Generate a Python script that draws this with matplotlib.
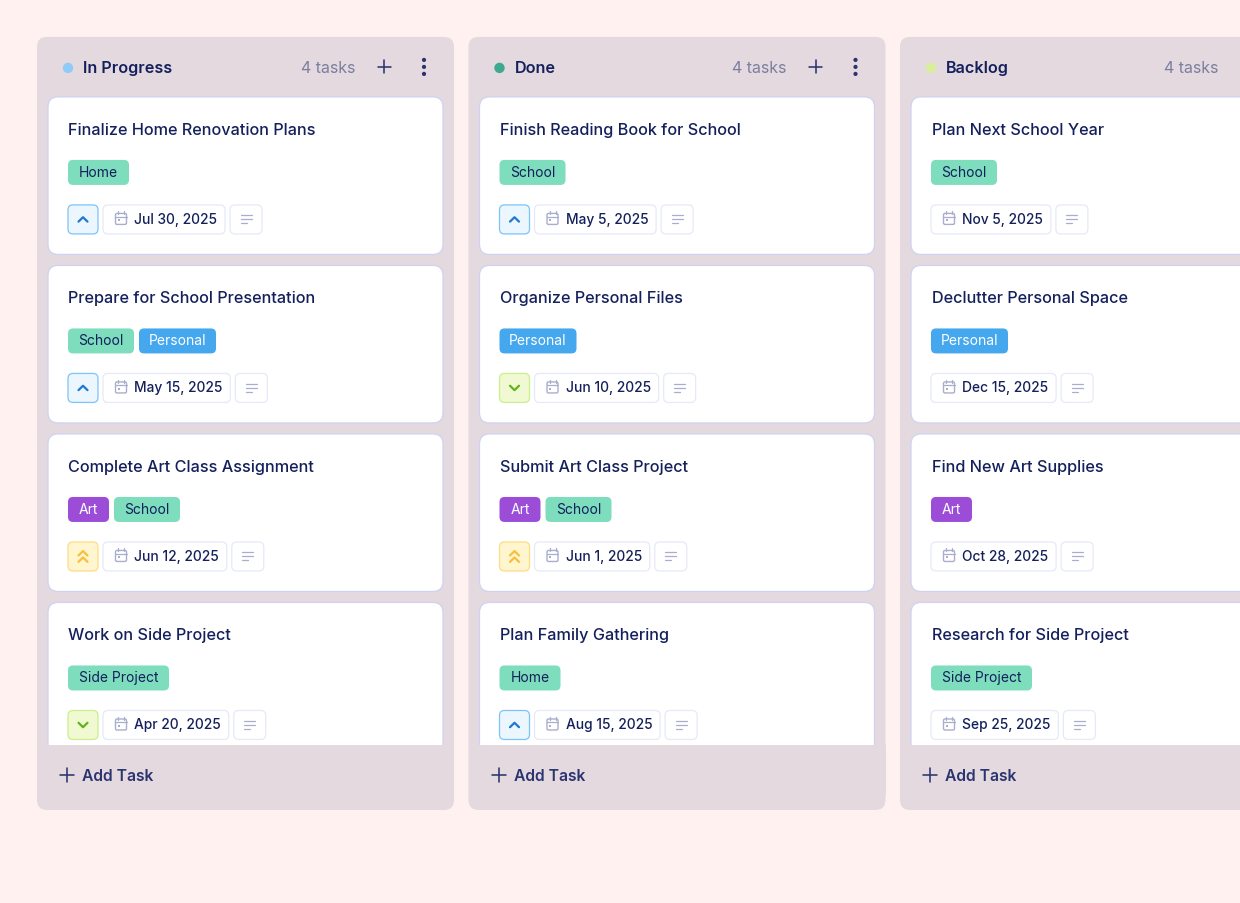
import matplotlib
matplotlib.use('Agg')
import matplotlib.pyplot as plt
from matplotlib.patches import FancyBboxPatch, Circle, Rectangle

plt.rcParams['font.family'] = ['Inter', 'DejaVu Sans']

## Board content
columns = ['In Progress', 'Done', 'Backlog']
task_counts = ['4 tasks', '4 tasks', '4 tasks']

titles = [
    ['Finalize Home Renovation Plans', 'Prepare for School Presentation',
     'Complete Art Class Assignment', 'Work on Side Project'],
    ['Finish Reading Book for School', 'Organize Personal Files',
     'Submit Art Class Project', 'Plan Family Gathering'],
    ['Plan Next School Year', 'Declutter Personal Space',
     'Find New Art Supplies', 'Research for Side Project'],
]
tags = [
    [['Home'], ['School', 'Personal'], ['Art', 'School'], ['Side Project']],
    [['School'], ['Personal'], ['Art', 'School'], ['Home']],
    [['School'], ['Personal'], ['Art'], ['Side Project']],
]
dates = [
    ['Jul 30, 2025', 'May 15, 2025', 'Jun 12, 2025', 'Apr 20, 2025'],
    ['May 5, 2025', 'Jun 10, 2025', 'Jun 1, 2025', 'Aug 15, 2025'],
    ['Nov 5, 2025', 'Dec 15, 2025', 'Oct 28, 2025', 'Sep 25, 2025'],
]
priorities = [
    ['medium', 'medium', 'high', 'low'],
    ['medium', 'low', 'high', 'medium'],
    [None, None, None, None],
]

## Colours
BG = '#FFF1F0'
PANEL = '#E5D9E0'
INK = '#14205C'
SOFT_INK = '#2A3570'
BORDER = '#CDD3F0'
PILL_BORDER = '#E6E9F8'
ICON = '#A9AECF'
dot_colors = ['#8FCBF7', '#3FA990', '#D8EE9C']
tag_colors = {'Home': '#7DDDBD', 'School': '#7DDDBD', 'Side Project': '#7DDDBD',
              'Personal': '#45A8EE', 'Art': '#9B4DD8'}
tag_text = {'Home': INK, 'School': INK, 'Side Project': INK,
            'Personal': '#FFFFFF', 'Art': '#FFFFFF'}
tag_widths = {'Home': 61, 'School': 66, 'Side Project': 101, 'Personal': 77, 'Art': 41}
prio_style = {'medium': ('#EBF6FF', '#7CC4F8', '#1F78D1'),
              'high': ('#FFF6CF', '#FBDD85', '#F8BF3C'),
              'low': ('#F1F9D2', '#CBEF8C', '#62B31C')}

fig = plt.figure(figsize=(12.4, 9.031), dpi=100, facecolor=BG)
ax = fig.add_axes([0, 0, 1, 1])
ax.set_xlim(0, 1240)
ax.set_ylim(903, 0)
ax.axis('off')


def box(x0, y0, x1, y1, r, fc, ec='none', lw=0, z=1):
    p = FancyBboxPatch((x0 + r, y0 + r), x1 - x0 - 2 * r, y1 - y0 - 2 * r,
                       boxstyle='round,pad=%f,rounding_size=%f' % (r, r),
                       fc=fc, ec=ec, lw=lw, zorder=z)
    ax.add_patch(p)


def line(xs, ys, color, lw=1.2, z=4):
    ax.plot(xs, ys, color=color, lw=lw, zorder=z, solid_capstyle='round',
            solid_joinstyle='round')


def chevron(cx, cy, color, up=True):
    d = -2.2 if up else 2.2
    line([cx - 4.5, cx, cx + 4.5], [cy - d, cy + d, cy - d], color, lw=1.6)


def calendar(cx, cy):
    box(cx - 5.5, cy - 5, cx + 5.5, cy + 6, 1.5, 'none', ICON, 1.0, z=4)
    line([cx - 5.5, cx + 5.5], [cy - 1.5, cy - 1.5], ICON, lw=0.9)
    line([cx - 3, cx - 3], [cy - 7, cy - 4], ICON, lw=0.9)
    line([cx + 3, cx + 3], [cy - 7, cy - 4], ICON, lw=0.9)
    ax.add_patch(Rectangle((cx - 3.2, cy + 1), 2, 2, fc=ICON, ec='none', zorder=4))


fig.canvas.draw()
renderer = fig.canvas.get_renderer()
inv = ax.transData.inverted()


def text_width(t):
    bb = t.get_window_extent(renderer)
    return inv.transform((bb.x1, 0))[0] - inv.transform((bb.x0, 0))[0]


## Columns
for c, name in enumerate(columns):
    x0 = 37 + 431.5 * c
    box(x0, 37, x0 + 417, 810, 10, PANEL, z=1)

    ax.add_patch(Circle((x0 + 31, 68), 5.2, fc=dot_colors[c], ec='none', zorder=2))
    ax.text(x0 + 46, 68.3, name, fontsize=11.65, fontweight='semibold', color=INK,
            va='center', zorder=2)
    ax.text(x0 + 318, 68, task_counts[c], fontsize=11.5, color='#7A7F9F',
            va='center', ha='right', zorder=2)

    # plus and menu in the header
    px = x0 + 347
    line([px - 6.5, px + 6.5], [67, 67], SOFT_INK, lw=1.15, z=2)
    line([px, px], [60.5, 73.5], SOFT_INK, lw=1.15, z=2)
    for dy in (-7, 0, 7):
        ax.add_patch(Circle((x0 + 387, 67 + dy), 2.1, fc=SOFT_INK, ec='none', zorder=2))

    ## Cards
    for i in range(len(titles[c])):
        top = 97 + 168.5 * i
        left = x0 + 11
        box(left, top, left + 395, top + 157.5, 10, 'white', BORDER, 0.9, z=2)
        ax.text(left + 20.5, top + 33.2, titles[c][i], fontsize=11.7, color=INK,
                fontweight='medium', va='center', zorder=3)

        # tags
        tx = left + 20
        for tag in tags[c][i]:
            w = tag_widths[tag]
            box(tx, top + 63, tx + w, top + 88, 5, tag_colors[tag], z=3)
            ax.text(tx + w / 2, top + 75.6, tag, fontsize=10, color=tag_text[tag],
                    va='center', ha='center', zorder=4)
            tx += w + 5

        # priority button, backlog cards have none
        rx = left + 20
        ry0, ry1 = top + 108, top + 137
        cy = (ry0 + ry1) / 2
        prio = priorities[c][i]
        if prio is not None:
            fc, ec, ic = prio_style[prio]
            box(rx, ry0, rx + 30, ry1, 5, fc, ec, 0.9, z=3)
            if prio == 'high':
                chevron(rx + 15, cy - 3.2, ic, up=True)
                chevron(rx + 15, cy + 3.2, ic, up=True)
            else:
                chevron(rx + 15, cy, ic, up=prio == 'medium')
            rx += 35

        # date pill sized from its text
        dt = ax.text(rx + 31, cy, dates[c][i], fontsize=9.95, color=INK, fontweight='medium',
                     va='center', zorder=4)
        w = 31 + text_width(dt) + 8
        box(rx, ry0, rx + w, ry1, 5, 'white', PILL_BORDER, 0.9, z=3)
        calendar(rx + 18, cy - 1)

        # comment pill
        mx = rx + w + 5
        box(mx, ry0, mx + 32, ry1, 5, 'white', PILL_BORDER, 0.9, z=3)
        for dy, half in ((-4, 5.5), (0, 5.5), (4, 3)):
            line([mx + 16 - 5.5, mx + 16 - 5.5 + 2 * half], [cy + dy, cy + dy], ICON, lw=0.9)

    ## Footer hides the bottom of the last card
    ax.add_patch(Rectangle((x0, 745.5), 417, 50, fc=PANEL, ec='none', zorder=6))
    fx = x0 + 30
    line([fx - 7, fx + 7], [775, 775], SOFT_INK, lw=1.15, z=7)
    line([fx, fx], [768, 782], SOFT_INK, lw=1.15, z=7)
    ax.text(x0 + 45, 776, 'Add Task', fontsize=11.3, fontweight='semibold', color=SOFT_INK,
            va='center', zorder=7)

fig.savefig('out.png', dpi=100, facecolor=BG)
